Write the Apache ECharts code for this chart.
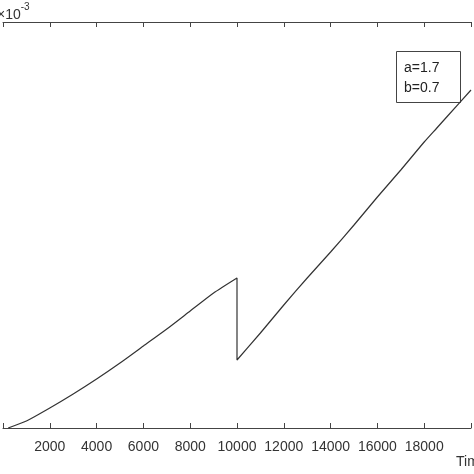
<!DOCTYPE html><html><head><meta charset="utf-8">
<script src="https://cdn.jsdelivr.net/npm/echarts@6/dist/echarts.min.js"></script>
<style>html,body{margin:0;padding:0;background:#fff}#c{width:474px;height:474px}</style></head><body><div id="c"></div>
<script>
const times=[222,1000,2000,3000,4000,5000,6000,7000,8000,9000,10000,10000,11000,12000,13000,14000,15000,16000,17000,18000,18540,19000,20000];
const values=[0,7,20,34,49,65,82,99,117,135,150,68,95,123,150,176,203,231,258,286,300,312,338];
const xTicks=[2000,4000,6000,8000,10000,12000,14000,16000,18000];
const legendLines=['a=1.7','b=0.7'];
const data=times.map((t,i)=>[t,values[i]]);
const ch=echarts.init(document.getElementById('c'));
const axisCommon={type:'value',min:0,max:20000,interval:2000,
 axisLine:{show:true,lineStyle:{color:'#444',width:1}},
 axisTick:{show:true,inside:true,length:5,lineStyle:{color:'#444'}},splitLine:{show:false}};
ch.setOption({animation:false,
 grid:{left:-6,top:22,right:-38,bottom:46,containLabel:false},
 xAxis:[Object.assign({},axisCommon,{position:'bottom',
   axisLabel:{color:'#333',fontSize:14,fontFamily:'Liberation Sans, Arial',margin:12,
     formatter:v=>xTicks.includes(v)?String(v):''}}),
  Object.assign({},axisCommon,{position:'top',axisLabel:{show:false}})],
 yAxis:{type:'value',min:0,max:406,axisLabel:{show:false},axisTick:{show:false},splitLine:{show:false},
  axisLine:{show:false}},
 series:[{type:'line',data:data,showSymbol:false,smooth:0.2,lineStyle:{color:'#333',width:1.2},clip:true}],
 graphic:[
  {type:'rect',left:396,top:51,shape:{width:64,height:51},style:{fill:'#fff',stroke:'#444',lineWidth:1}},
  {type:'text',left:404,top:58,style:{text:legendLines.join('\n'),fontSize:14,lineHeight:20,fill:'#222',fontFamily:'Liberation Sans, Arial'}},
  {type:'text',left:-3,top:2,style:{text:'{a|×10}{s|-3}',rich:{a:{fontSize:14,fill:'#333',fontFamily:'Liberation Sans, Arial',padding:[6,0,0,0]},s:{fontSize:10,fill:'#333',fontFamily:'Liberation Sans, Arial',verticalAlign:'top'}}}},
  {type:'text',left:456,top:455,style:{text:'Time',fontSize:14,fill:'#333',fontFamily:'Liberation Sans, Arial'}}
 ]});
</script></body></html>
